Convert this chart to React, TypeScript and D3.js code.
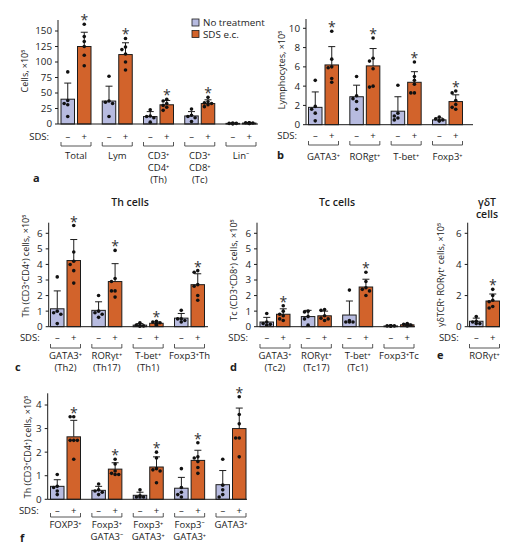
import * as d3 from 'd3';

const FONT = "'Open Sans', 'Noto Sans', 'DejaVu Sans', sans-serif";
const CTRL_FILL = '#b7bbe0';
const SDS_FILL = '#d2632b';
const INK = '#1c1c1c';

// a — total cells and lineages (×10^5)
const aGroups = [['Total'], ['Lym'], ['CD3⁺', 'CD4⁺', '(Th)'], ['CD3⁺', 'CD8⁺', '(Tc)'], ['Lin⁻']];
const aCtrlMean = [40, 37, 12, 13, 1];
const aCtrlSd = [26, 24, 8, 7, 0.6];
const aSdsMean = [125, 112, 31, 33, 1.5];
const aSdsSd = [23, 19, 7, 6, 0.6];
const aCtrlPts = [[84, 38, 33, 31, 12], [77, 37, 35, 33, 12], [23, 13, 12, 10, 3], [24, 14, 12, 10, 4], [1.5, 1, 1, 0.5, 0.5]];
const aSdsPts = [[161, 141, 133, 125, 111, 94], [138, 124, 120, 113, 100, 87], [40, 37, 33, 30, 27, 22], [43, 36, 34, 33, 31, 28], [2, 2, 1.5, 1.5, 1, 1]];
const aStars = [true, true, true, true, false];
const aTicks = [0, 25, 50, 75, 100, 125, 150];

// b — lymphocyte subsets
const bGroups = [['GATA3⁺'], ['RORgt⁺'], ['T-bet⁺'], ['Foxp3⁺']];
const bCtrlMean = [1.8, 2.9, 1.4, 0.5];
const bCtrlSd = [1.6, 1.2, 1.5, 0.2];
const bSdsMean = [6.2, 6.1, 4.4, 2.4];
const bSdsSd = [1.9, 1.8, 1.1, 0.7];
const bCtrlPts = [[4.6, 1.9, 1.6, 1.2, 0.4], [5.0, 3.0, 2.7, 2.4, 1.6], [4.1, 1.2, 0.9, 0.7, 0.5], [0.8, 0.6, 0.5, 0.4, 0.4]];
const bSdsPts = [[9.7, 6.8, 6.0, 5.9, 4.8, 4.4], [9.0, 6.9, 6.6, 5.8, 4.0, 3.9], [6.5, 5.0, 4.6, 4.2, 3.3, 3.3], [3.5, 3.3, 2.5, 2.1, 1.8, 1.6]];
const bStars = [true, true, true, true];
const bTicks = [0, 2, 4, 6, 8, 10];

// c — Th cells
const cGroups = [['GATA3⁺', '(Th2)'], ['RORγt⁺', '(Th17)'], ['T-bet⁺', '(Th1)'], ['Foxp3⁺Th']];
const cCtrlMean = [1.15, 1.05, 0.1, 0.55];
const cCtrlSd = [1.15, 0.55, 0.1, 0.3];
const cSdsMean = [4.25, 2.9, 0.22, 2.7];
const cSdsSd = [1.35, 1.15, 0.08, 0.7];
const cCtrlPts = [[3.2, 1.0, 0.9, 0.8, 0.2], [2.0, 1.0, 0.9, 0.8, 0.6], [0.25, 0.1, 0.05, 0.05, 0.05], [1.05, 0.5, 0.5, 0.4, 0.3]];
const cSdsPts = [[6.5, 4.8, 4.2, 4.0, 3.6, 2.8], [4.9, 3.1, 2.9, 2.3, 2.3, 1.9], [0.35, 0.3, 0.25, 0.2, 0.15, 0.1], [3.6, 3.5, 2.7, 2.6, 2.0, 1.7]];
const cStars = [true, true, true, true];

// d — Tc cells
const dGroups = [['GATA3⁺', '(Tc2)'], ['RORγt⁺', '(Tc17)'], ['T-bet⁺', '(Tc1)'], ['Foxp3⁺Tc']];
const dCtrlMean = [0.3, 0.65, 0.75, 0.05];
const dCtrlSd = [0.3, 0.4, 0.9, 0.02];
const dSdsMean = [0.8, 0.7, 2.55, 0.12];
const dSdsSd = [0.35, 0.3, 0.5, 0.06];
const dCtrlPts = [[0.85, 0.3, 0.2, 0.15, 0.1], [1.0, 0.95, 0.65, 0.5, 0.1], [2.35, 0.4, 0.3, 0.3, 0.3], [0.05, 0.05, 0.05, 0.05, 0.05]];
const dSdsPts = [[1.35, 1.0, 0.8, 0.7, 0.5, 0.4], [1.1, 1.05, 0.7, 0.55, 0.5, 0.4], [3.5, 2.9, 2.5, 2.4, 2.3, 2.0], [0.2, 0.15, 0.1, 0.1, 0.1, 0.05]];
const dStars = [true, false, true, false];
const cdTicks = [0, 1, 2, 3, 4, 5, 6];

// e — γδT cells
const eGroups = [['RORγt⁺']];
const eCtrlMean = [0.35];
const eCtrlSd = [0.2];
const eSdsMean = [1.65];
const eSdsSd = [0.45];
const eCtrlPts = [[0.65, 0.35, 0.3, 0.2, 0.2]];
const eSdsPts = [[2.4, 2.0, 1.7, 1.6, 1.3, 1.2]];
const eStars = [true];
const eTicks = [0, 2, 4, 6];

// f — Foxp3/GATA3 Th subsets
const fGroups = [['FOXP3⁺'], ['Foxp3⁺', 'GATA3⁻'], ['Foxp3⁺', 'GATA3⁺'], ['Foxp3⁻', 'GATA3⁺'], ['GATA3⁺']];
const fCtrlMean = [0.55, 0.38, 0.17, 0.47, 0.62];
const fCtrlSd = [0.28, 0.17, 0.13, 0.46, 0.6];
const fSdsMean = [2.65, 1.28, 1.37, 1.65, 3.0];
const fSdsSd = [0.7, 0.27, 0.43, 0.43, 0.87];
const fCtrlPts = [[1.05, 0.55, 0.5, 0.35, 0.2], [0.65, 0.4, 0.35, 0.3, 0.2], [0.4, 0.15, 0.1, 0.1, 0.1], [1.3, 0.5, 0.3, 0.2, 0.1], [1.7, 0.6, 0.4, 0.2, 0.1]];
const fSdsPts = [[3.5, 3.5, 2.5, 2.5, 2.5, 1.7], [1.7, 1.5, 1.2, 1.1, 1.05, 1.05], [2.0, 1.75, 1.3, 1.25, 1.2, 0.7], [2.4, 1.8, 1.75, 1.6, 1.35, 1.1], [4.35, 3.6, 3.2, 2.6, 2.6, 1.8]];
const fStars = [true, true, true, true, true];
const fTicks = [0, 1, 2, 3, 4];

type Series = {
  groups: string[][];
  ctrlMean: number[];
  ctrlSd: number[];
  sdsMean: number[];
  sdsSd: number[];
  ctrlPts: number[][];
  sdsPts: number[][];
  stars: boolean[];
  ticks: number[];
};

type Frame = {
  axisX: number;
  axisTop: number;
  axisRight: number;
  y0: number;
  yTick: number;
  c0: number;
  c1: number;
  sdsY: number;
  bracketDy: number;
  labelDy: number;
  lineH: number;
  ylabel: string;
  ylabelX: number;
  ylabelY: number;
};

const BAR_W = 13.5;
const BAR_GAP = 1.5;

// simple swarm so that close values spread sideways inside the bar
function swarm(values: number[], y: (v: number) => number) {
  const placed: { px: number; py: number }[] = [];
  const offsets = [0, -3.6, 3.6, -1.8, 1.8, -5.4, 5.4];
  return values.map((v) => {
    const py = y(v);
    let px = 0;
    for (const o of offsets) {
      if (placed.every((p) => Math.abs(p.py - py) > 3.4 || Math.abs(p.px - o) > 3.4)) {
        px = o;
        break;
      }
    }
    placed.push({ px, py });
    return { px, py };
  });
}

function Bar({ cx, mean, sd, pts, fill, y, star }: {
  cx: number; mean: number; sd: number; pts: number[]; fill: string; y: d3.ScaleLinear<number, number>; star: boolean;
}) {
  const left = cx - BAR_W / 2;
  const yTop = y(mean);
  const yErr = y(mean + sd);
  const dots = swarm(pts, y);
  const top = Math.min(yErr, d3.min(pts.map(y)) ?? yErr);
  return (
    <g>
      <rect x={left} y={yTop} width={BAR_W} height={y(0) - yTop} fill={fill} stroke={INK} strokeWidth={1} />
      <line x1={cx} x2={cx} y1={yTop} y2={yErr} stroke={INK} strokeWidth={1} />
      <line x1={cx - 3.5} x2={cx + 3.5} y1={yErr} y2={yErr} stroke={INK} strokeWidth={1} />
      {dots.map((d, i) => (
        <circle key={i} cx={cx + d.px} cy={d.py} r={1.8} fill="#111" />
      ))}
      {star && (
        <text x={cx} y={top + 1} textAnchor="middle" fontSize={14} fill="#333" fontFamily={FONT}>*</text>
      )}
    </g>
  );
}

function Panel({ s, f }: { s: Series; f: Frame }) {
  const tickMax = s.ticks[s.ticks.length - 1];
  const y = d3.scaleLinear().domain([0, tickMax]).range([f.y0, f.yTick]);
  const x = d3.scalePoint<number>().domain(s.groups.map((_, i) => i)).range([f.c0, f.c1]);
  const fmt = d3.format('d');
  return (
    <g fontFamily={FONT} fill={INK}>
      {s.groups.map((g, i) => {
        const cx = x(i) as number;
        const cxCtrl = cx - BAR_GAP - BAR_W / 2;
        const cxSds = cx + BAR_GAP + BAR_W / 2;
        const by = f.sdsY + f.bracketDy;
        const bl = cxCtrl - BAR_W / 2;
        const br = cxSds + BAR_W / 2;
        return (
          <g key={i}>
            <Bar cx={cxCtrl} mean={s.ctrlMean[i]} sd={s.ctrlSd[i]} pts={s.ctrlPts[i]} fill={CTRL_FILL} y={y} star={false} />
            <Bar cx={cxSds} mean={s.sdsMean[i]} sd={s.sdsSd[i]} pts={s.sdsPts[i]} fill={SDS_FILL} y={y} star={s.stars[i]} />
            <text x={cxCtrl} y={f.sdsY + 3.5} textAnchor="middle" fontSize={9.5}>–</text>
            <text x={cxSds} y={f.sdsY + 3.5} textAnchor="middle" fontSize={9.5}>+</text>
            <path d={`M${bl},${by - 4}V${by}H${br}V${by - 4}`} fill="none" stroke="#444" strokeWidth={0.9} />
            {g.map((line, j) => (
              <text key={j} x={cx} y={f.sdsY + f.labelDy + j * f.lineH + 3.3} textAnchor="middle" fontSize={9.5}>{line}</text>
            ))}
          </g>
        );
      })}
      <text x={f.axisX - 9} y={f.sdsY + 3.8} textAnchor="end" fontSize={9.5}>SDS:</text>
      {/* axes */}
      <line x1={f.axisX} x2={f.axisX} y1={f.axisTop} y2={f.y0} stroke={INK} strokeWidth={1} />
      <line x1={f.axisX} x2={f.axisRight} y1={f.y0} y2={f.y0} stroke={INK} strokeWidth={1} />
      {s.ticks.map((t) => (
        <g key={t}>
          <line x1={f.axisX - 3} x2={f.axisX} y1={y(t)} y2={y(t)} stroke={INK} strokeWidth={1} />
          <text x={f.axisX - 6} y={y(t) + 3.4} textAnchor="end" fontSize={9.8}>{fmt(t)}</text>
        </g>
      ))}
      <text transform={`translate(${f.ylabelX},${f.ylabelY}) rotate(-90)`} textAnchor="middle" fontSize={9}>{f.ylabel}</text>
    </g>
  );
}

const sA: Series = { groups: aGroups, ctrlMean: aCtrlMean, ctrlSd: aCtrlSd, sdsMean: aSdsMean, sdsSd: aSdsSd, ctrlPts: aCtrlPts, sdsPts: aSdsPts, stars: aStars, ticks: aTicks };
const sB: Series = { groups: bGroups, ctrlMean: bCtrlMean, ctrlSd: bCtrlSd, sdsMean: bSdsMean, sdsSd: bSdsSd, ctrlPts: bCtrlPts, sdsPts: bSdsPts, stars: bStars, ticks: bTicks };
const sC: Series = { groups: cGroups, ctrlMean: cCtrlMean, ctrlSd: cCtrlSd, sdsMean: cSdsMean, sdsSd: cSdsSd, ctrlPts: cCtrlPts, sdsPts: cSdsPts, stars: cStars, ticks: cdTicks };
const sD: Series = { groups: dGroups, ctrlMean: dCtrlMean, ctrlSd: dCtrlSd, sdsMean: dSdsMean, sdsSd: dSdsSd, ctrlPts: dCtrlPts, sdsPts: dSdsPts, stars: dStars, ticks: cdTicks };
const sE: Series = { groups: eGroups, ctrlMean: eCtrlMean, ctrlSd: eCtrlSd, sdsMean: eSdsMean, sdsSd: eSdsSd, ctrlPts: eCtrlPts, sdsPts: eSdsPts, stars: eStars, ticks: eTicks };
const sF: Series = { groups: fGroups, ctrlMean: fCtrlMean, ctrlSd: fCtrlSd, sdsMean: fSdsMean, sdsSd: fSdsSd, ctrlPts: fCtrlPts, sdsPts: fSdsPts, stars: fStars, ticks: fTicks };

const frA: Frame = { axisX: 58, axisTop: 20, axisRight: 258, y0: 124, yTick: 31, c0: 76, c1: 241, sdsY: 136.5, bracketDy: 9.5, labelDy: 19, lineH: 12, ylabel: 'Cells, ×10⁵', ylabelX: 28, ylabelY: 71 };
const frB: Frame = { axisX: 306, axisTop: 19, axisRight: 473, y0: 124.7, yTick: 28.3, c0: 323.5, c1: 447.5, sdsY: 135.5, bracketDy: 9.5, labelDy: 21, lineH: 12, ylabel: 'Lymphocytes, ×10⁵', ylabelX: 285, ylabelY: 70 };
const frC: Frame = { axisX: 48.7, axisTop: 222.7, axisRight: 208, y0: 326.7, yTick: 233.3, c0: 65.5, c1: 189.5, sdsY: 337.5, bracketDy: 10.5, labelDy: 18, lineH: 12, ylabel: 'Th (CD3⁺CD4⁺) cells, ×10⁵', ylabelX: 29, ylabelY: 266 };
const frD: Frame = { axisX: 257, axisTop: 222.7, axisRight: 415, y0: 326.7, yTick: 233.3, c0: 275, c1: 399, sdsY: 337.5, bracketDy: 10.5, labelDy: 18, lineH: 12, ylabel: 'Tc (CD3⁺CD8⁺) cells, ×10⁵', ylabelX: 237, ylabelY: 270 };
const frE: Frame = { axisX: 467.7, axisTop: 222.7, axisRight: 500, y0: 326.7, yTick: 233.3, c0: 484.5, c1: 484.5, sdsY: 337.5, bracketDy: 10.5, labelDy: 18, lineH: 12, ylabel: 'γδTCR⁺ RORγt⁺ cells, ×10⁵', ylabelX: 444, ylabelY: 275 };
const frF: Frame = { axisX: 47.7, axisTop: 393.3, axisRight: 247, y0: 499.3, yTick: 405, c0: 65.5, c1: 231, sdsY: 510, bracketDy: 7, labelDy: 15, lineH: 11.8, ylabel: 'Th (CD3⁺CD4⁺) cells, ×10⁵', ylabelX: 31, ylabelY: 447 };

const legendItems = [
  { label: 'No treatment', fill: CTRL_FILL },
  { label: 'SDS e.c.', fill: SDS_FILL },
];

export default function App() {
  return (
    <svg width={520} height={559} style={{ position: 'absolute', left: 0, top: 0, background: '#fff' }}>
      <Panel s={sA} f={frA} />
      <Panel s={sB} f={frB} />
      <Panel s={sC} f={frC} />
      <Panel s={sD} f={frD} />
      <Panel s={sE} f={frE} />
      <Panel s={sF} f={frF} />

      <g fontFamily={FONT} fontSize={9.8} fill={INK}>
        {legendItems.map((l, i) => (
          <g key={l.label} transform={`translate(192,${19 + i * 11.5})`}>
            <rect width={7} height={7} fill={l.fill} stroke={INK} strokeWidth={0.8} />
            <text x={11} y={7}>{l.label}</text>
          </g>
        ))}
      </g>

      <g fontFamily={FONT} fontSize={10.5} fontWeight={600} fill={INK} textAnchor="middle">
        <text x={130} y={205.5}>Th cells</text>
        <text x={337} y={205.5}>Tc cells</text>
        <text x={487} y={206}>γδT</text>
        <text x={487} y={218}>cells</text>
      </g>

      <g fontFamily={FONT} fontSize={11} fontWeight={700} fill={INK}>
        <text x={33} y={182}>a</text>
        <text x={277} y={159}>b</text>
        <text x={15} y={371}>c</text>
        <text x={230} y={371}>d</text>
        <text x={437} y={359}>e</text>
        <text x={20} y={542}>f</text>
      </g>
    </svg>
  );
}
